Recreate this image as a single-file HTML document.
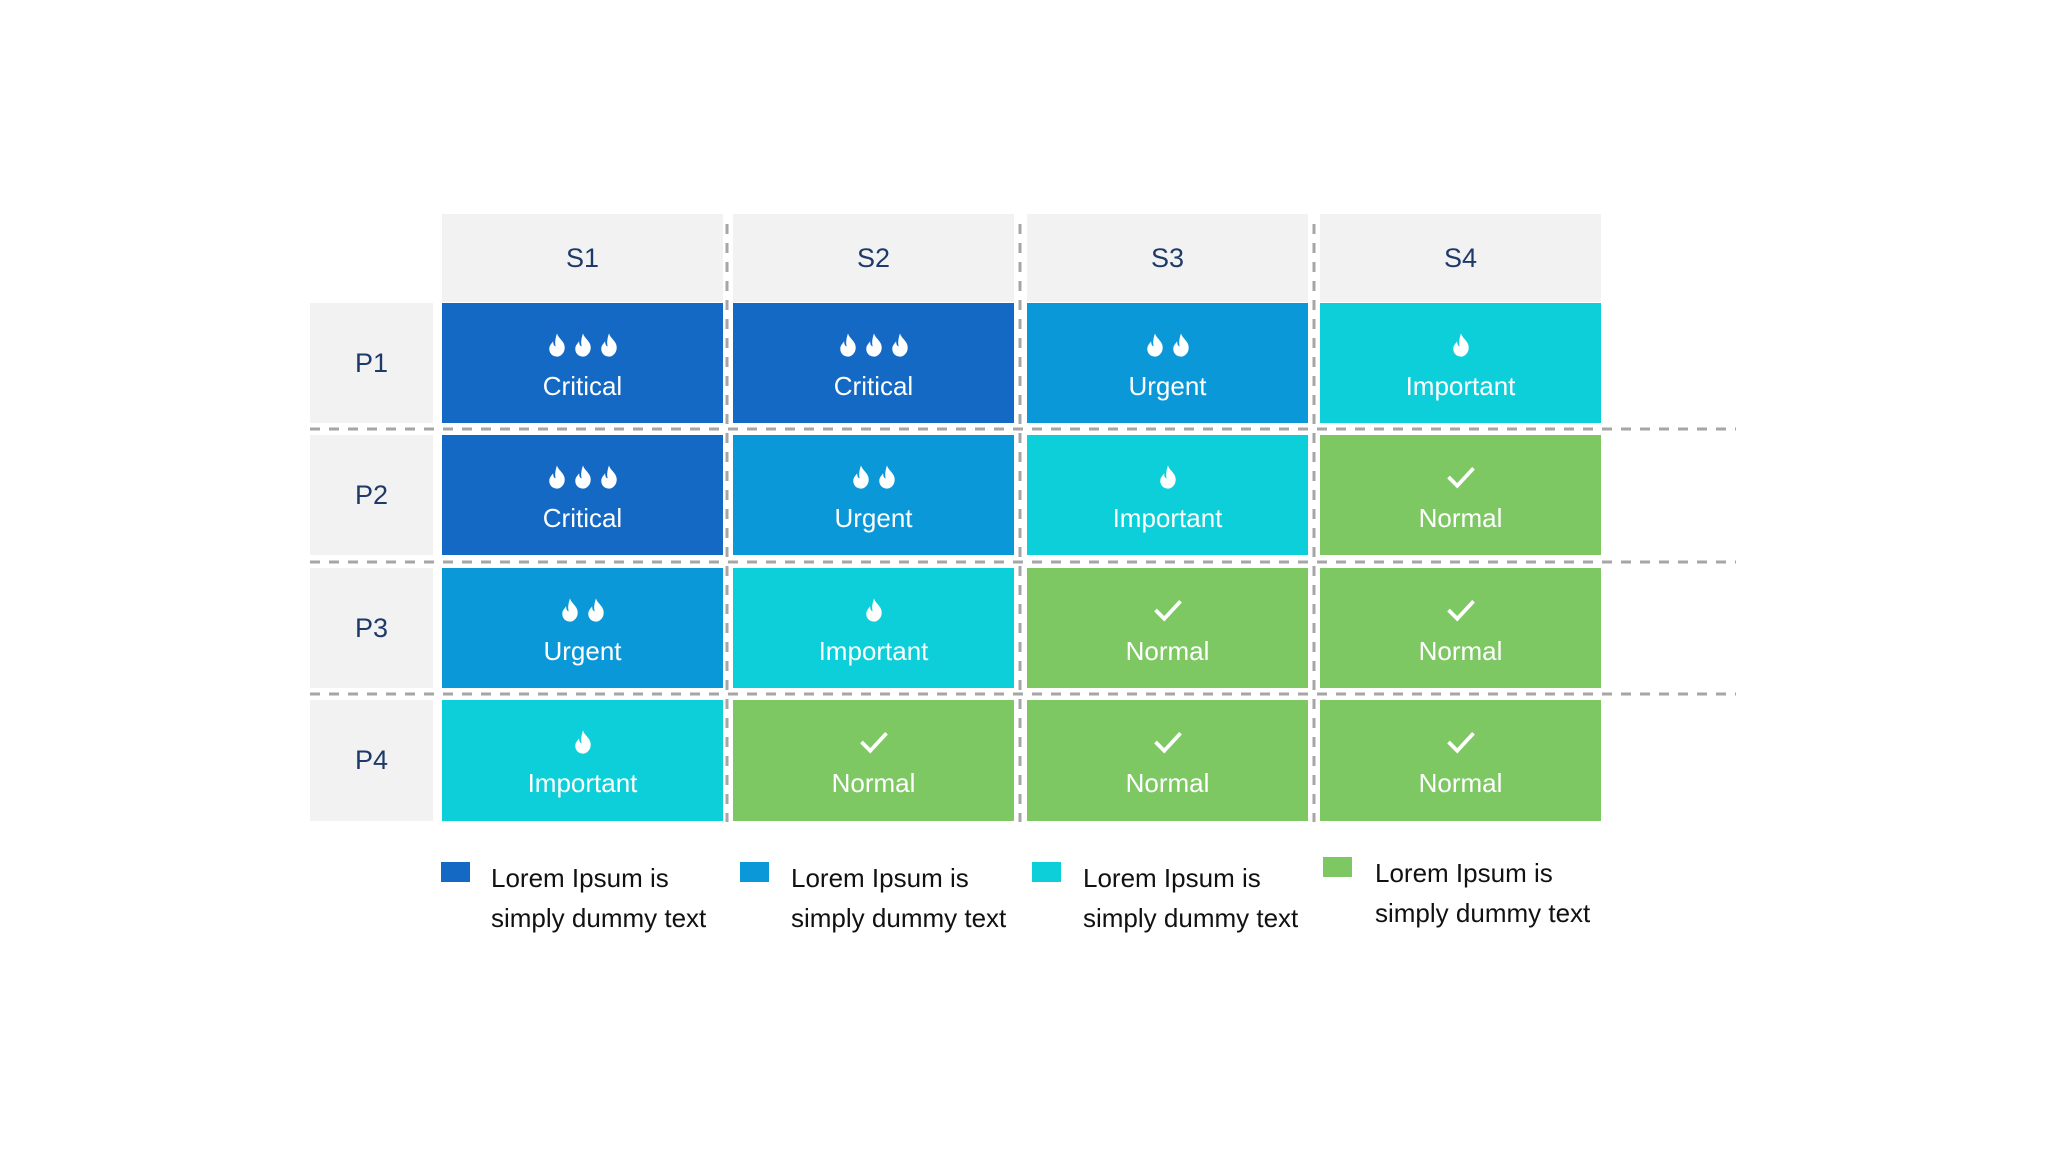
<!DOCTYPE html>
<html><head><meta charset="utf-8"><style>
body{margin:0;width:2048px;height:1152px;background:#fff;position:relative;overflow:hidden;font-family:"Liberation Sans",Arial,sans-serif}
.a{position:absolute}
.h{background:#f2f2f2;color:#1e3a68;font-size:27px;display:flex;align-items:center;justify-content:center}
.c{position:absolute;width:281px;height:120px;color:#fff;text-align:center}
.c .i{position:absolute;left:0;right:0;top:30px;height:26px;display:flex;justify-content:center;gap:8px}
.c .t{position:absolute;left:0;right:0;top:68px;font-size:26px;line-height:30px}
.d{background:#1469c4}.m{background:#0a98d8}.y{background:#0dcfd9}.g{background:#7ec864}
.sq{position:absolute;width:29px;height:20px}
.lt{position:absolute;font-size:26px;line-height:40px;color:#111}
</style></head><body>
<svg width="0" height="0" style="position:absolute"><defs><symbol id="f" viewBox="0 0 14 18"><path d="M7 0C8 4 13 6 13 11C13 15 10 18 7 18C3 18 1 15 1 12C1 9 3 8 4 6C4 9 5 10 6 10C5 7 6 3 7 0Z" fill="#fff"/></symbol><symbol id="k" viewBox="0 0 24 18"><path d="M2 9L9 16L22 2" stroke="#fff" stroke-width="3" fill="none"/></symbol></defs></svg>

<div class="a h" style="left:442px;top:214px;width:281px;height:88px">S1</div>
<div class="a h" style="left:733px;top:214px;width:281px;height:88px">S2</div>
<div class="a h" style="left:1027px;top:214px;width:281px;height:88px">S3</div>
<div class="a h" style="left:1320px;top:214px;width:281px;height:88px">S4</div>
<div class="a h" style="left:310px;top:303px;width:123px;height:120px">P1</div>
<div class="a h" style="left:310px;top:435px;width:123px;height:120px">P2</div>
<div class="a h" style="left:310px;top:568px;width:123px;height:120px">P3</div>
<div class="a h" style="left:310px;top:700px;width:123px;height:121px">P4</div>

<div class="c d" style="left:442px;top:303px"><div class="i"><svg width="18" height="24"><use href="#f"/></svg><svg width="18" height="24"><use href="#f"/></svg><svg width="18" height="24"><use href="#f"/></svg></div><div class="t">Critical</div></div>
<div class="c d" style="left:733px;top:303px"><div class="i"><svg width="18" height="24"><use href="#f"/></svg><svg width="18" height="24"><use href="#f"/></svg><svg width="18" height="24"><use href="#f"/></svg></div><div class="t">Critical</div></div>
<div class="c m" style="left:1027px;top:303px"><div class="i"><svg width="18" height="24"><use href="#f"/></svg><svg width="18" height="24"><use href="#f"/></svg></div><div class="t">Urgent</div></div>
<div class="c y" style="left:1320px;top:303px"><div class="i"><svg width="18" height="24"><use href="#f"/></svg></div><div class="t">Important</div></div>

<div class="c d" style="left:442px;top:435px"><div class="i"><svg width="18" height="24"><use href="#f"/></svg><svg width="18" height="24"><use href="#f"/></svg><svg width="18" height="24"><use href="#f"/></svg></div><div class="t">Critical</div></div>
<div class="c m" style="left:733px;top:435px"><div class="i"><svg width="18" height="24"><use href="#f"/></svg><svg width="18" height="24"><use href="#f"/></svg></div><div class="t">Urgent</div></div>
<div class="c y" style="left:1027px;top:435px"><div class="i"><svg width="18" height="24"><use href="#f"/></svg></div><div class="t">Important</div></div>
<div class="c g" style="left:1320px;top:435px"><div class="i"><svg width="30" height="24"><use href="#k"/></svg></div><div class="t">Normal</div></div>

<div class="c m" style="left:442px;top:568px"><div class="i"><svg width="18" height="24"><use href="#f"/></svg><svg width="18" height="24"><use href="#f"/></svg></div><div class="t">Urgent</div></div>
<div class="c y" style="left:733px;top:568px"><div class="i"><svg width="18" height="24"><use href="#f"/></svg></div><div class="t">Important</div></div>
<div class="c g" style="left:1027px;top:568px"><div class="i"><svg width="30" height="24"><use href="#k"/></svg></div><div class="t">Normal</div></div>
<div class="c g" style="left:1320px;top:568px"><div class="i"><svg width="30" height="24"><use href="#k"/></svg></div><div class="t">Normal</div></div>

<div class="c y" style="left:442px;top:700px;height:121px"><div class="i"><svg width="18" height="24"><use href="#f"/></svg></div><div class="t">Important</div></div>
<div class="c g" style="left:733px;top:700px;height:121px"><div class="i"><svg width="30" height="24"><use href="#k"/></svg></div><div class="t">Normal</div></div>
<div class="c g" style="left:1027px;top:700px;height:121px"><div class="i"><svg width="30" height="24"><use href="#k"/></svg></div><div class="t">Normal</div></div>
<div class="c g" style="left:1320px;top:700px;height:121px"><div class="i"><svg width="30" height="24"><use href="#k"/></svg></div><div class="t">Normal</div></div>

<svg class="a" style="left:0;top:0" width="2048" height="1152">
<g stroke="#a6a6a6" stroke-width="3" stroke-dasharray="10 9" fill="none">
<line x1="310" y1="429" x2="1736" y2="429"/>
<line x1="310" y1="562" x2="1736" y2="562"/>
<line x1="310" y1="694" x2="1736" y2="694"/>
<line x1="727" y1="224" x2="727" y2="822"/>
<line x1="1020" y1="224" x2="1020" y2="822"/>
<line x1="1314" y1="224" x2="1314" y2="822"/>
</g></svg>

<div class="sq d" style="left:441px;top:862px"></div>
<div class="lt" style="left:491px;top:858px">Lorem Ipsum is<br>simply dummy text</div>
<div class="sq m" style="left:740px;top:862px"></div>
<div class="lt" style="left:791px;top:858px">Lorem Ipsum is<br>simply dummy text</div>
<div class="sq y" style="left:1032px;top:862px"></div>
<div class="lt" style="left:1083px;top:858px">Lorem Ipsum is<br>simply dummy text</div>
<div class="sq g" style="left:1323px;top:857px"></div>
<div class="lt" style="left:1375px;top:853px">Lorem Ipsum is<br>simply dummy text</div>
</body></html>
